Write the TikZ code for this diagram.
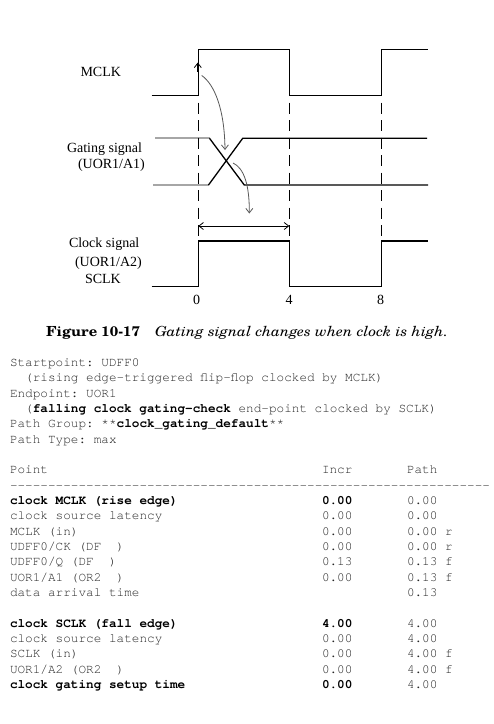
\documentclass[tikz,border=0pt]{standalone}
\usepackage{fontspec}
\usepackage{graphicx}
\setmonofont{texgyrecursor-regular.otf}[BoldFont=texgyrecursor-bold.otf]
\newfontfamily\timesf{Liberation Serif}
\newfontfamily\schola{texgyreschola-regular.otf}[BoldFont=texgyreschola-bold.otf, ItalicFont=texgyreschola-italic.otf]
\usetikzlibrary{arrows.meta}
\tikzset{
  wave/.style={line width=1.3pt, line join=miter, black},
  gwave/.style={line width=1.9pt, gray!70},
  guide/.style={line width=1.1pt, black, dash pattern=on 11pt off 6.5pt},
  barb/.style={line width=0.8pt, arrows={-Straight Barb[length=4.5pt,width=7pt]}},
  curvearrow/.style={barb, draw=black!65},
  lbl/.style={anchor=base west, inner sep=0pt, outer sep=0pt, font=\timesf\fontsize{14}{16}\selectfont},
  tick/.style={anchor=base, inner sep=0pt, outer sep=0pt, font=\timesf\fontsize{14}{16}\selectfont},
  mono/.style={anchor=base west, inner sep=0pt, outer sep=0pt, font=\ttfamily\fontsize{12.7}{15}\selectfont, text=black!85},
  monob/.style={mono, font=\ttfamily\bfseries\fontsize{12.7}{15}\selectfont, text=black},
  captext/.style={anchor=base west, inner sep=0pt, outer sep=0pt}
}
\begin{document}
\begin{tikzpicture}[x=1pt,y=-1pt]
\useasboundingbox (0,0) rectangle (494,724);
\fill[white] (0,0) rectangle (494,724);
\clip (0,0) rectangle (494,724);

% ---------- timing diagram ----------
% MCLK
\draw[wave] (151.7,95.7) -- (198.3,95.7) -- (198.3,49.3) -- (289.3,49.3) -- (289.3,95.7) -- (381.7,95.7) -- (381.7,49.3) -- (428.3,49.3);
% gating signal
\draw[gwave] (155,138.3) -- (210,138.3);
\draw[gwave] (153,185) -- (209,185);
\draw[wave] (209.5,138.3) -- (244.3,185) -- (428,185);
\draw[wave] (208.5,185) -- (242.7,138.3) -- (427,138.3);
% SCLK
\draw[wave] (151.7,286.7) -- (198.3,286.7) -- (198.3,241) -- (289.3,241) -- (289.3,286.7) -- (381.7,286.7) -- (381.7,241) -- (427.7,241);
% guides
\draw[guide] (198.3,102.7) -- (198.3,241);
\draw[guide] (289.3,102.7) -- (289.3,241);
\draw[guide] (381.7,102.7) -- (381.7,236);

% arrows
\coordinate (upbase) at (197.8,72);
\coordinate (uptip) at (197.8,62.5);
\draw[barb] (upbase) -- (uptip);
\coordinate (c1s) at (201.7,75.5);
\coordinate (c1e) at (225,150);
\draw[curvearrow] (c1s) .. controls (214,84) and (224.5,108) .. (c1e);
\coordinate (c2s) at (233,163);
\coordinate (c2e) at (249.3,213.5);
\draw[curvearrow] (c2s) .. controls (244,168) and (249.5,185) .. (c2e);
\coordinate (ha) at (198.3,226);
\coordinate (hb) at (289.3,226);
\draw[barb, arrows={Straight Barb[length=4.5pt,width=7pt]-Straight Barb[length=4.5pt,width=7pt]}] (ha) -- (hb);

% labels
\node[lbl] (lmclk) at (80.5,76) {MCLK};
\node[lbl] (lgate) at (67,152.5) {Gating signal};
\node[lbl] (lgate2) at (78,168.5) {(UOR1/A1)};
\node[lbl] (lclk) at (69,247.3) {Clock signal};
\node[lbl] (lclk2) at (75,266.5) {(UOR1/A2)};
\node[lbl] (lsclk) at (85,283.3) {SCLK};
\node[tick] (t0) at (196.5,304) {0};
\node[tick] (t4) at (289,304) {4};
\node[tick] (t8) at (380.7,304) {8};

% caption
\node[captext] (capb) at (46,336.3) {\resizebox{94pt}{\height}{\schola\fontsize{13.9}{16}\selectfont\bfseries Figure 10-17}};
\node[captext] (capi) at (155,336.3) {\resizebox{293pt}{\height}{\schola\fontsize{13.9}{16}\selectfont\itshape Gating signal changes when clock is high.}};

% ---------- report ----------
\node[mono] (r0) at (10,{366.3+15.35*0}) {Startpoint: UDFF0};
\node[mono] (r1) at (25.2,{366.3+15.35*1}) {(rising edge-triggered flip-flop clocked by MCLK)};
\node[mono] (r2) at (10,{366.3+15.35*2}) {Endpoint: UOR1};
\node[mono] (r3) at (25.2,{366.3+15.35*3}) {(\textbf{\textcolor{black}{falling clock gating-check}}\ end-point clocked by SCLK)};
\node[mono] (r4) at (10,{366.3+15.35*4}) {Path Group: **\textbf{\textcolor{black}{clock\_gating\_default}}**};
\node[mono] (r5) at (10,{366.3+15.35*5}) {Path Type: max};

\node[mono] (h1) at (10,{366.3+15.35*7}) {Point};
\node[mono] (h2) at (322,{366.3+15.35*7}) {Incr};
\node[mono] (h3) at (407,{366.3+15.35*7}) {Path};
\node[mono] (dl) at (10,{366.3+15.35*8}) {-{}-{}-{}-{}-{}-{}-{}-{}-{}-{}-{}-{}-{}-{}-{}-{}-{}-{}-{}-{}-{}-{}-{}-{}-{}-{}-{}-{}-{}-{}-{}-{}-{}-{}-{}-{}-{}-{}-{}-{}-{}-{}-{}-{}-{}-{}-{}-{}-{}-{}-{}-{}-{}-{}-{}-{}-{}-{}-{}-{}-{}-{}-{}};

\node[monob] (a9) at (10,{366.3+15.35*9}) {clock MCLK (rise edge)};
\node[monob] (b9) at (322,{366.3+15.35*9}) {0.00};
\node[mono] (c9) at (407,{366.3+15.35*9}) {0.00};
\node[mono] (a10) at (10,{366.3+15.35*10}) {clock source latency};
\node[mono] (b10) at (322,{366.3+15.35*10}) {0.00};
\node[mono] (c10) at (407,{366.3+15.35*10}) {0.00};
\node[mono] (a11) at (10,{366.3+15.35*11}) {MCLK (in)};
\node[mono] (b11) at (322,{366.3+15.35*11}) {0.00};
\node[mono] (c11) at (407,{366.3+15.35*11}) {0.00 r};
\node[mono] (a12) at (10,{366.3+15.35*12}) {UDFF0/CK (DF~~)};
\node[mono] (b12) at (322,{366.3+15.35*12}) {0.00};
\node[mono] (c12) at (407,{366.3+15.35*12}) {0.00 r};
\node[mono] (a13) at (10,{366.3+15.35*13}) {UDFF0/Q (DF~~)};
\node[mono] (b13) at (322,{366.3+15.35*13}) {0.13};
\node[mono] (c13) at (407,{366.3+15.35*13}) {0.13 f};
\node[mono] (a14) at (10,{366.3+15.35*14}) {UOR1/A1 (OR2~~)};
\node[mono] (b14) at (322,{366.3+15.35*14}) {0.00};
\node[mono] (c14) at (407,{366.3+15.35*14}) {0.13 f};
\node[mono] (a15) at (10,{366.3+15.35*15}) {data arrival time};
\node[mono] (c15) at (407,{366.3+15.35*15}) {0.13};

\node[monob] (a17) at (10,{366.3+15.35*17}) {clock SCLK (fall edge)};
\node[monob] (b17) at (322,{366.3+15.35*17}) {4.00};
\node[mono] (c17) at (407,{366.3+15.35*17}) {4.00};
\node[mono] (a18) at (10,{366.3+15.35*18}) {clock source latency};
\node[mono] (b18) at (322,{366.3+15.35*18}) {0.00};
\node[mono] (c18) at (407,{366.3+15.35*18}) {4.00};
\node[mono] (a19) at (10,{366.3+15.35*19}) {SCLK (in)};
\node[mono] (b19) at (322,{366.3+15.35*19}) {0.00};
\node[mono] (c19) at (407,{366.3+15.35*19}) {4.00 f};
\node[mono] (a20) at (10,{366.3+15.35*20}) {UOR1/A2 (OR2~~)};
\node[mono] (b20) at (322,{366.3+15.35*20}) {0.00};
\node[mono] (c20) at (407,{366.3+15.35*20}) {4.00 f};
\node[monob] (a21) at (10,{366.3+15.35*21}) {clock gating setup time};
\node[monob] (b21) at (322,{366.3+15.35*21}) {0.00};
\node[mono] (c21) at (407,{366.3+15.35*21}) {4.00};
\end{tikzpicture}
\end{document}
